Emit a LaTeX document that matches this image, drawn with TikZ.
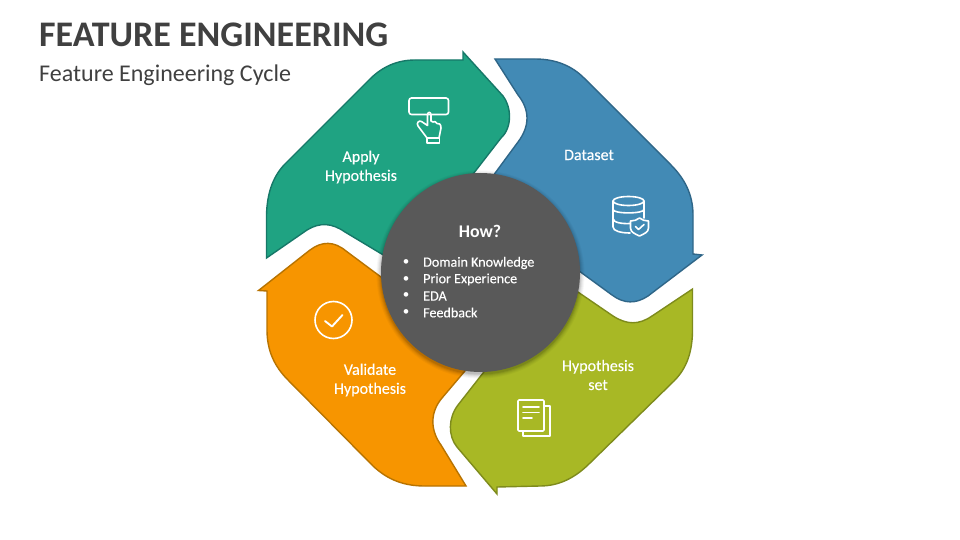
\documentclass[tikz,border=0pt]{standalone}
\usepackage{fontspec}
\setmainfont{Carlito}
\newfontfamily\whitefont[FakeBold=0.25]{Carlito}
\definecolor{cgreen}{HTML}{1FA382}
\definecolor{dgreen}{HTML}{167868}
\definecolor{cblue}{HTML}{428AB5}
\definecolor{dblue}{HTML}{2F6688}
\definecolor{colive}{HTML}{A8B825}
\definecolor{dolive}{HTML}{7E8B1C}
\definecolor{corange}{HTML}{F79500}
\definecolor{dorange}{HTML}{B87300}
\definecolor{cgrey}{HTML}{595959}
\definecolor{ctext}{HTML}{404040}
\tikzset{
  petal/.style={line width=1.4pt,line join=miter},
  lbl/.style={text=white,font=\whitefont\fontsize{16}{19}\selectfont,align=center,inner sep=0pt},
  lst/.style={text=white,font=\whitefont\fontsize{14.1}{16}\selectfont,anchor=west,inner sep=0pt},
  dot/.style={text=white,font=\fontsize{13}{16}\selectfont,inner sep=0pt},
  icon/.style={draw=white,line width=1.6pt,line join=round,line cap=round},
}
\begin{document}
\begin{tikzpicture}[x=1pt,y=-1pt]
\useasboundingbox (0,0) rectangle (960,540);
\fill[white] (0,0) rectangle (960,540);
\node[anchor=west,inner sep=0pt,text=ctext,font=\fontsize{36}{40}\selectfont\bfseries] (title) at (39,35) {FEATURE ENGINEERING};
\node[anchor=west,inner sep=0pt,text=ctext,font=\fontsize{24}{28}\selectfont] (subtitle) at (39,75) {Feature Engineering Cycle};
% green
\draw[petal,fill=cgreen,draw=dgreen] (266.5,258) -- (266.5,215) .. controls (267,195) and (272,178) .. (284,165)
 -- (370,79) .. controls (382,67) and (397,60) .. (415,60) -- (463,60) -- (463,52) -- (503,96)
 .. controls (511,106) and (513,127) .. (501,138) -- (470,178) -- (385,256) -- (345,232)
 .. controls (332,223) and (320,222) .. (307,230) -- cycle;
% blue
\draw[petal,fill=cblue,draw=dblue] (495,59) -- (535,59) .. controls (556,59) and (572,66) .. (584,78)
 -- (671,165) .. controls (685,179) and (693,195) .. (693,215) -- (693,254) -- (702,255) -- (648,296)
 .. controls (636,304) and (624,304) .. (612,295) -- (575,268) -- (490,180) -- (518,142)
 .. controls (530,126) and (530,110) .. (518,95) -- cycle;
% olive
\draw[petal,fill=colive,draw=dolive] (692.5,289) -- (692.5,332) .. controls (692,352) and (687,368) .. (674,381)
 -- (590,463) .. controls (576,477) and (560,486) .. (540,486) -- (497,487) -- (497,494) -- (457,447)
 .. controls (448,436) and (448,418) .. (458,405) -- (487,368) -- (575,290) -- (613,316)
 .. controls (627,325) and (639,325) .. (652,316) -- cycle;
% orange
\draw[petal,fill=corange,draw=dorange] (466,486) -- (425,486) .. controls (404,486) and (388,480) .. (373,466)
 -- (288,380) .. controls (274,366) and (267,350) .. (267,330) -- (267,291) -- (258.5,290.5) -- (310,250)
 .. controls (322,241) and (334,241) .. (346,251) -- (385,280) -- (470,365) -- (442,398)
 .. controls (430,412) and (430,430) .. (441,445) -- cycle;
% centre shadow and disc
\foreach \r/\o in {104/0.03,103/0.04,102/0.05,101/0.07,100/0.09}{\fill[black,opacity=\o] (480.5,274.5) circle[radius=\r];}
\node[circle,fill=cgrey,minimum size=199pt,inner sep=0pt] (hub) at (480.5,272.5) {};
\node[inner sep=0pt,text=white,font=\fontsize{17.8}{20}\selectfont\bfseries] (how) at (480,231) {How?};
\node[dot] (b1) at (406,263) {\textbullet}; \node[lst] (l1) at (423,263) {Domain Knowledge};
\node[dot] (b2) at (406,279.5) {\textbullet}; \node[lst] (l2) at (423,279.5) {Prior Experience};
\node[dot] (b3) at (406,296) {\textbullet}; \node[lst] (l3) at (423,296) {EDA};
\node[dot] (b4) at (406,312.5) {\textbullet}; \node[lst] (l4) at (423,312.5) {Feedback};
% labels
\node[lbl] (apply) at (361,167) {Apply\\Hypothesis};
\node[lbl] (dataset) at (589,155) {Dataset};
\node[lbl] (hset) at (598,375) {Hypothesis\\set};
\node[lbl] (validate) at (370,380) {Validate\\Hypothesis};
% hand icon
\draw[icon,rounded corners=2.5pt] (409,98) rectangle (448.5,114.5);
\draw[icon] (431,121) -- (431,115) .. controls (431,111.5) and (427.5,111.5) .. (427.5,115) -- (427.5,125.5) -- (421.5,121.5)
 .. controls (419,120) and (416,123) .. (418,126) -- (427,138) -- (439,138) -- (441,128) .. controls (441,124) and (439,123) .. (437,123.5)
 .. controls (436,121.5) and (434,121) .. (433,122) -- (431,121);
\draw[icon] (427,138) -- (427,143) -- (439.5,143) -- (439.5,138);
% database icon
\draw[icon] (628.5,201) ellipse[x radius=15.5,y radius=4.5];
\draw[icon] (613,201) -- (613,227) .. controls (613,231) and (621,233) .. (630,233);
\draw[icon] (644,201) -- (644,218);
\draw[icon] (613,209.5) .. controls (613,214) and (644,214) .. (644,209.5);
\draw[icon] (613,218.5) .. controls (613,222.5) and (622,224) .. (630,223.5);
\draw[icon,fill=cblue] (630.5,221) .. controls (634,221) and (637,220) .. (639.5,218) .. controls (642,220) and (645,221) .. (648.5,221) -- (648.5,228) .. controls (648.5,232) and (644,234) .. (639.5,236) .. controls (635,234) and (630.5,232) .. (630.5,228) -- cycle;
\draw[icon] (635.5,226.5) -- (638.5,229.5) -- (644,224.5);
% document icon
\draw[icon] (544,406) -- (550,406) -- (550,436) -- (523,436) -- (523,431);
\draw[icon,rounded corners=1pt] (518,400) rectangle (544,431);
\draw[icon] (523,407) -- (539,407) (523,412.5) -- (539,412.5) (523,418) -- (532,418);
% check icon
\draw[icon] (333.5,320) circle[radius=18.5];
\draw[icon,line width=1.9pt] (325,321) -- (332,326.5) -- (342.5,315);
\end{tikzpicture}
\end{document}
